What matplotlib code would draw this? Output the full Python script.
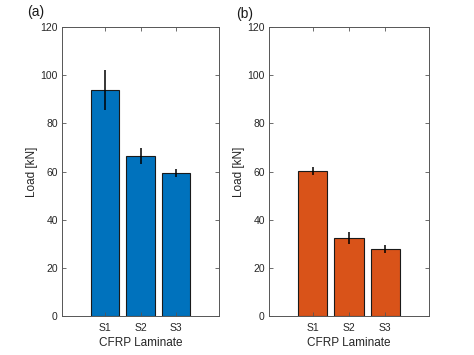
import numpy as np
import matplotlib
matplotlib.use("Agg")
import matplotlib.pyplot as plt

plt.rcParams["font.family"] = ["Liberation Sans", "DejaVu Sans"]

categories = ["S1", "S2", "S3"]
load_a = [93.8, 66.4, 59.3]
err_a = [8.2, 3.2, 1.7]
load_b = [60.1, 32.4, 27.7]
err_b = [1.6, 2.4, 1.7]

BLUE = "#0072BD"
ORANGE = "#D95319"
AXC = "#555555"

fig = plt.figure(figsize=(4.74, 3.55), dpi=100)
W, H = 474, 355
panels = [
    (62, 219, load_a, err_a, BLUE, "(a)", 36, 12),
    (269, 429, load_b, err_b, ORANGE, "(b)", 245, 14),
]
top, bottom = 27, 316

for left, right, vals, errs, col, tag, tx, ty in panels:
    ax = fig.add_axes([left / W, 1 - bottom / H, (right - left) / W, (bottom - top) / H])
    x = np.arange(1, len(categories) + 1)
    ax.bar(x, vals, width=0.8, color=col, edgecolor="#1a1a1a", linewidth=0.8)
    ax.errorbar(x, vals, yerr=errs, fmt="none", ecolor="black", elinewidth=1.1, capsize=0)
    ax.set_xlim(-0.2, 4.2)
    ax.set_ylim(0, 120)
    ax.set_xticks(x)
    ax.set_xticklabels(categories)
    ax.set_yticks(np.arange(0, 121, 20))
    ax.tick_params(direction="in", length=3, width=0.6, top=True, right=True,
                   labelsize=7.5, colors=AXC, labelcolor="#262626")
    ax.tick_params(axis="x", pad=5)
    ax.tick_params(axis="y", pad=3)
    for s in ax.spines.values():
        s.set_color(AXC)
        s.set_linewidth(0.7)
    ax.set_xlabel("CFRP Laminate", fontsize=8.5, color="#262626", labelpad=3)
    ax.set_ylabel("Load [kN]", fontsize=8.5, color="#262626", labelpad=2)
    fig.text(tx / W, 1 - ty / H, tag, fontsize=10, ha="center", va="center", color="#1a1a1a")

fig.savefig("out.png", dpi=100)
